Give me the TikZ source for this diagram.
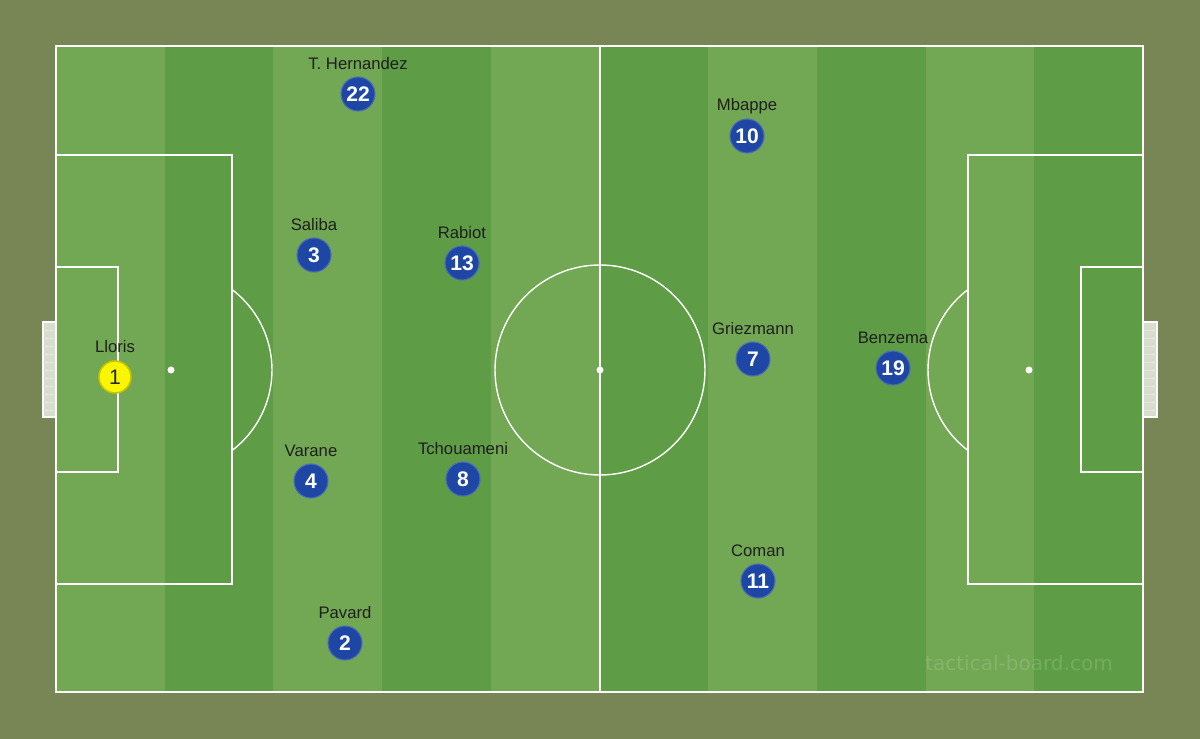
\documentclass[tikz,border=0pt]{standalone}
\usepackage{fontspec}
\setmainfont{Liberation Sans}
\newfontfamily\markfont{DejaVu Sans}
\usetikzlibrary{backgrounds}
\definecolor{bgolive}{RGB}{120,133,85}
\definecolor{pitchlight}{RGB}{114,167,83}
\definecolor{pitchdark}{RGB}{94,157,69}
\definecolor{shirtblue}{RGB}{30,70,165}
\definecolor{keeperyellow}{RGB}{250,246,0}
\tikzstyle{pitchline}=[draw=white, line width=0.8pt]
\tikzstyle{shirt}=[circle, fill=shirtblue, draw=shirtblue!80!white, line width=0.6pt, minimum size=0.68cm, inner sep=0pt, text=white, font=\fontsize{12}{12}\selectfont\bfseries]
\tikzstyle{keeper}=[shirt, fill=keeperyellow, draw=keeperyellow!80!black, line width=0.9pt, minimum size=0.64cm, text=black!85, font=\fontsize{12}{12}\selectfont]
\tikzstyle{annot}=[align=center, text=black!88, font=\fontsize{9.5}{11}\selectfont]
\tikzstyle{goalnet}=[fill=white!72!bgolive, draw=white, line width=0.7pt]
\newcommand{\player}[5]
{
  \node[shirt](#1) at (#2,#3){#4};
  \node[annot, above of=#1, node distance=0.6cm](#1lbl){#5};
}

\begin{document}
\begin{tikzpicture}[x=0.02cm, y=-0.02cm]
	\fill[bgolive] (0,0) rectangle (1200,739);
	\useasboundingbox (0,0) rectangle (1200,739);

	% stripes
	\foreach \i in {0,...,9}{
		\pgfmathsetmacro{\xa}{56+\i*108.7}
		\pgfmathsetmacro{\xb}{56+(\i+1)*108.7}
		\ifodd\i
			\fill[pitchdark] (\xa,46) rectangle (\xb,692);
		\else
			\fill[pitchlight] (\xa,46) rectangle (\xb,692);
		\fi
	}

	% goals
	\path[goalnet] (43,322) rectangle (56,417);
	\path[goalnet] (1143,322) rectangle (1157,417);
	\foreach \k in {1,...,11}{
		\draw[white!80!bgolive, line width=0.2pt] (43,322+\k*8) -- (56,322+\k*8);
		\draw[white!80!bgolive, line width=0.2pt] (1143,322+\k*8) -- (1157,322+\k*8);
	}

	% markings
	\draw[pitchline, line width=1pt] (56,46) rectangle (1143,692);
	\draw[pitchline] (600,46) -- (600,692);
	\coordinate (centre) at (600,370);
	\coordinate (lspot) at (171,370);
	\coordinate (rspot) at (1029,370);
	\draw[pitchline] (centre) circle (105);
	\draw[pitchline] (56,155) rectangle (232,584);
	\draw[pitchline] (56,267) rectangle (118,472);
	\draw[pitchline] (968,155) rectangle (1143,584);
	\draw[pitchline] (1081,267) rectangle (1143,472);
	\begin{scope}
		\clip (232,46) rectangle (600,692);
		\draw[pitchline] (lspot) circle (101);
	\end{scope}
	\begin{scope}
		\clip (600,46) rectangle (968,692);
		\draw[pitchline] (rspot) circle (101);
	\end{scope}
	\fill[white] (centre) circle (3.5);
	\fill[white] (lspot) circle (3.5);
	\fill[white] (rspot) circle (3.5);

	\node[text=white, opacity=0.15, font=\markfont\fontsize{11.4}{13}\selectfont, anchor=east](mark) at (1119,663){tactical-board.com};

	% players
	\node[keeper](lloris) at (115,377){1};
	\node[annot, above of=lloris, node distance=0.6cm](llorislbl){Lloris};
	\player{hernandez}{358}{94}{22}{T. Hernandez}
	\player{saliba}{314}{255}{3}{Saliba}
	\player{varane}{311}{481}{4}{Varane}
	\player{pavard}{345}{643}{2}{Pavard}
	\player{rabiot}{462}{263}{13}{Rabiot}
	\player{tchouameni}{463}{479}{8}{Tchouameni}
	\player{mbappe}{747}{136}{10}{Mbappe}
	\player{griezmann}{753}{359}{7}{Griezmann}
	\player{coman}{758}{581}{11}{Coman}
	\player{benzema}{893}{368}{19}{Benzema}

\end{tikzpicture}
\end{document}
